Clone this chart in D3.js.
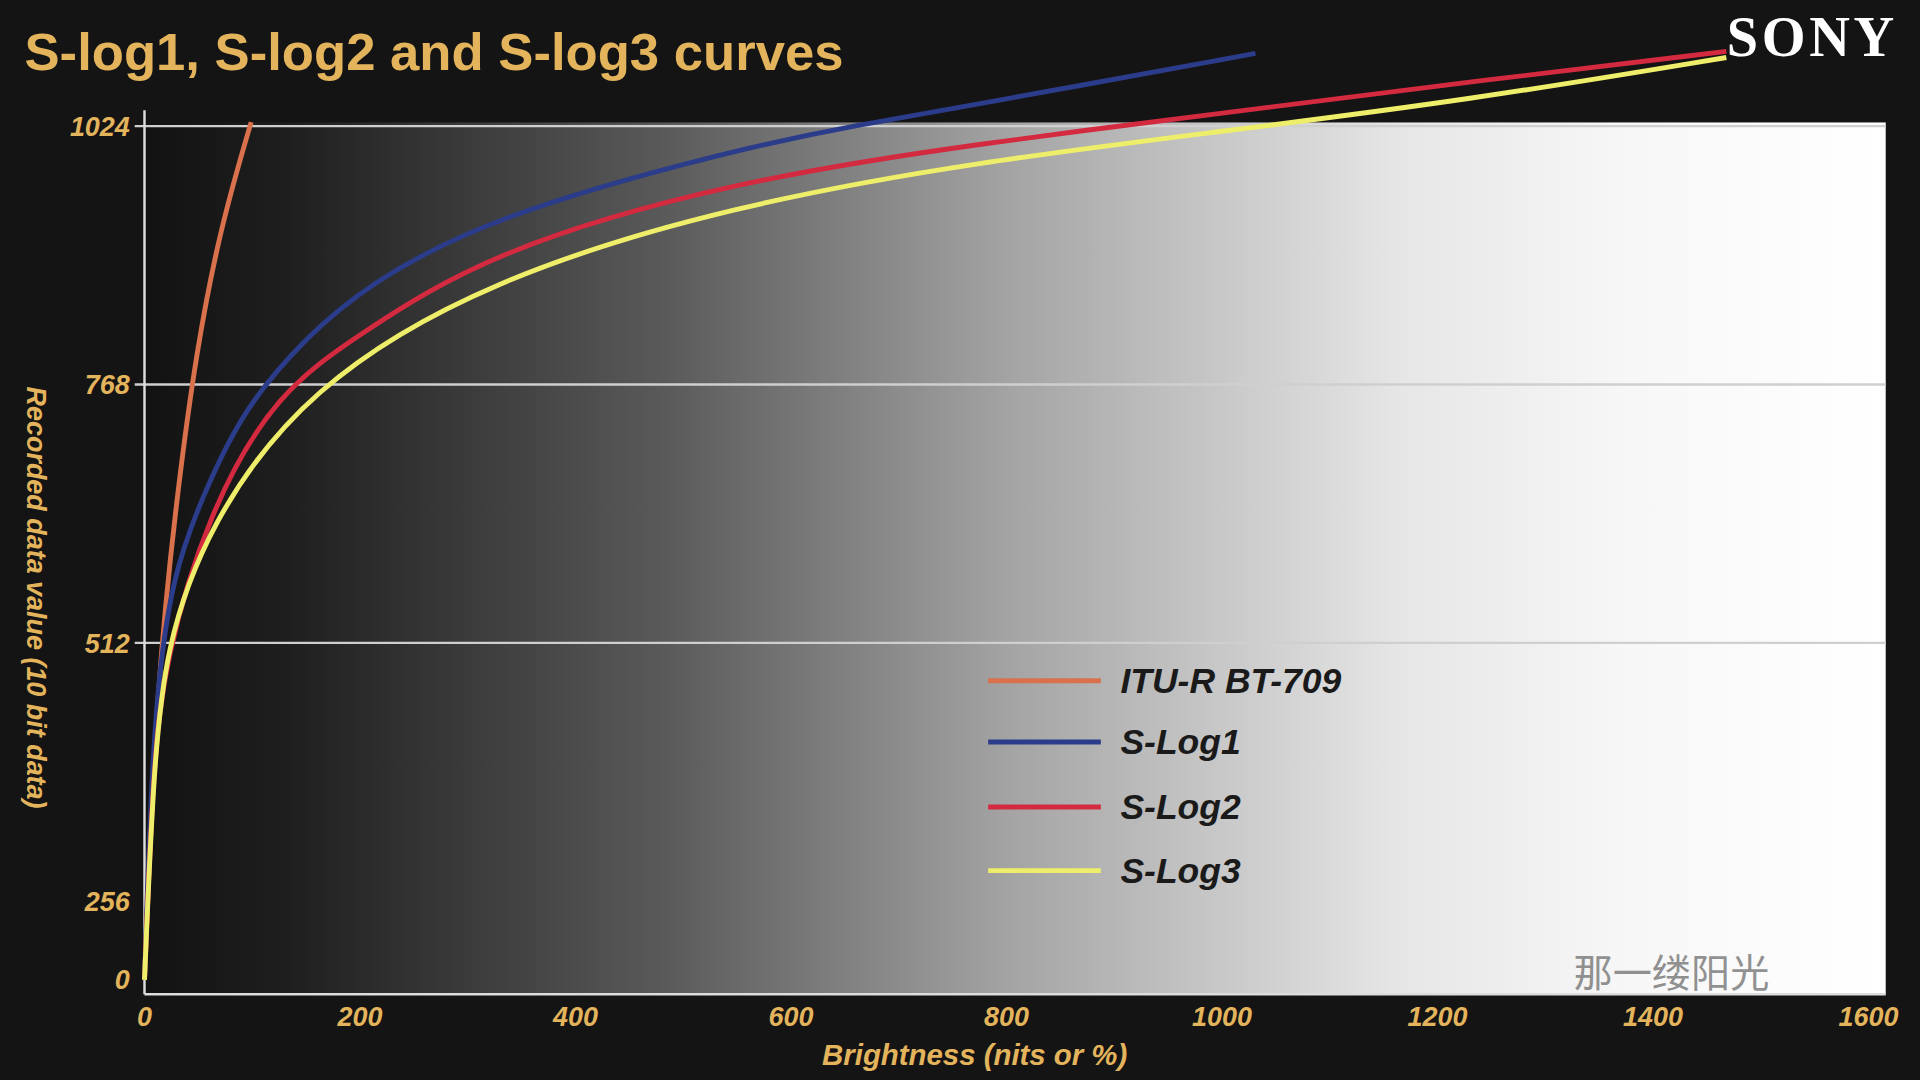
<!DOCTYPE html>
<html><head><meta charset="utf-8">
<script src="https://cdn.jsdelivr.net/npm/d3@7"></script>
<style>
html,body{margin:0;padding:0;background:#141414;overflow:hidden}
svg{display:block}
</style></head>
<body>
<svg id="chart" width="1920" height="1080" viewBox="0 0 1568 882" font-family="Liberation Sans, Arial, sans-serif"></svg>
<script>
const bt709 = [[0,178],[11,471],[31,666],[48,800],[70,922],[99,1028]];
const slog1 = [[0,178],[8,440],[25,580],[59,670],[93,745],[150,815],[207,867],[320,934],[548,1001],[661,1025],[775,1046],[1031,1096]];
const slog2 = [[0,178],[8,390],[19,495],[59,641],[122,760],[200,818],[320,900],[548,970],[775,1007],[1002,1037],[1230,1068],[1468,1098]];
const slog3 = [[0,178],[8,380],[19,507],[59,629],[150,765],[320,873],[548,946],[775,989],[1002,1019],[1230,1050],[1468,1092]];
const seriesNames = ['ITU-R BT-709','S-Log1','S-Log2','S-Log3'];
const seriesColors = ['#d8714c','#2b3c8a','#d42a40','#eeee6a'];
const xTicks = [0,200,400,600,800,1000,1200,1400,1600];
const yTicks = [0,256,512,768,1024];

const svg = d3.select('#chart');
const x = d3.scaleLinear().domain([0,1600]).range([118,1526]);
const y = d3.scaleLinear().domain([256,1024]).range([736,103]);
const plotTop = 100, plotBottom = 812, plotRight = 1540;
const gold = '#e3b45c';

const grad = svg.append('defs').append('linearGradient').attr('id','bg');
[[0,'#121212'],[0.08,'#1e1e1e'],[0.3,'#5a5a5a'],[0.5,'#a5a5a5'],[0.72,'#e6e6e6'],[0.85,'#f7f7f7'],[1,'#ffffff']]
  .forEach(([o,c]) => grad.append('stop').attr('offset',o).attr('stop-color',c));
svg.append('rect').attr('x',118).attr('y',plotTop).attr('width',plotRight-118).attr('height',plotBottom-plotTop).attr('fill','url(#bg)');

// grid
svg.selectAll('.grid').data(yTicks.slice(2)).enter().append('line')
  .attr('x1',110).attr('x2',plotRight).attr('y1',d=>y(d)).attr('y2',d=>y(d))
  .attr('stroke','#cfcfcf').attr('stroke-width',2);
svg.append('line').attr('x1',118).attr('x2',118).attr('y1',90).attr('y2',plotBottom).attr('stroke','#ddd').attr('stroke-width',2);
svg.append('line').attr('x1',118).attr('x2',plotRight).attr('y1',plotBottom).attr('y2',plotBottom).attr('stroke','#ddd').attr('stroke-width',2);

// tick labels
svg.selectAll('.yt').data(yTicks).enter().append('text')
  .attr('x',106).attr('y',d => d === 0 ? 808 : y(d)+8).attr('text-anchor','end')
  .attr('fill',gold).attr('font-size',22).attr('font-weight','bold').attr('font-style','italic').text(d=>d);
svg.selectAll('.xt').data(xTicks).enter().append('text')
  .attr('x',d=>x(d)).attr('y',838).attr('text-anchor','middle')
  .attr('fill',gold).attr('font-size',22).attr('font-weight','bold').attr('font-style','italic').text(d=>d);

// curves
const line = d3.line().x(d=>x(d[0])).y(d=>y(d[1])).curve(d3.curveBasis);
[bt709,slog1,slog2,slog3].forEach((s,i) => {
  svg.append('path').datum(s).attr('d',line).attr('fill','none')
    .attr('stroke',seriesColors[i]).attr('stroke-width',4);
});

// legend
const leg = svg.selectAll('.leg').data(seriesNames).enter().append('g')
  .attr('transform',(d,i)=>`translate(807,${[556,606,659,711][i]})`);
leg.append('line').attr('x1',0).attr('x2',92).attr('stroke',(d,i)=>seriesColors[i]).attr('stroke-width',4);
leg.append('text').attr('x',108).attr('y',10).attr('font-size',29).attr('font-weight','bold')
  .attr('font-style','italic').attr('fill','#1a1a1a').text(d=>d);

// titles
svg.append('text').attr('x',20).attr('y',57).attr('fill',gold).attr('font-size',43).attr('font-weight','bold')
  .text('S-log1, S-log2 and S-log3 curves');
svg.append('text').attr('x',1550).attr('y',46).attr('text-anchor','end').attr('fill','#fff')
  .attr('font-family','Liberation Serif, serif').attr('font-weight','bold').attr('font-size',46)
  .attr('letter-spacing',3).text('SONY');
svg.append('text').attr('x',796).attr('y',870).attr('text-anchor','middle').attr('fill',gold)
  .attr('font-size',24).attr('font-weight','bold').attr('font-style','italic').text('Brightness (nits or %)');
svg.append('text').attr('transform','translate(22,488) rotate(90)').attr('text-anchor','middle').attr('fill',gold)
  .attr('font-size',22).attr('font-weight','bold').attr('font-style','italic').text('Recorded data value (10 bit data)');
svg.append('text').attr('x',1285).attr('y',806).attr('fill','#777').attr('opacity',0.8)
  .attr('font-family','Noto Sans CJK SC, sans-serif').attr('font-size',32).text('那一缕阳光');
</script>
</body></html>
